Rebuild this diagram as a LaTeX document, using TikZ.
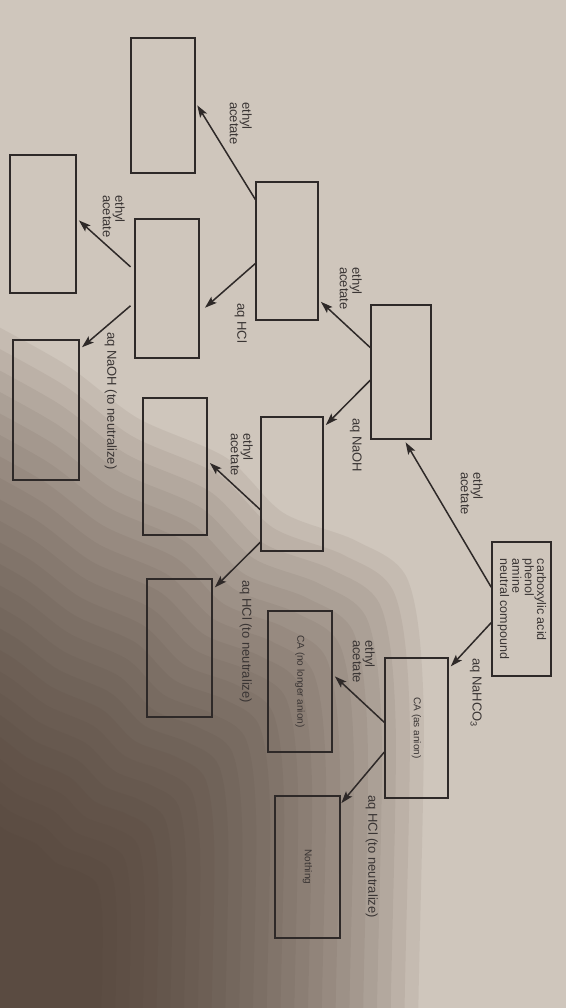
\documentclass[tikz,border=0pt]{standalone}
\usepackage{fontspec}
\setmainfont{Liberation Sans}
\usetikzlibrary{calc,arrows.meta}
\definecolor{paper}{RGB}{207,198,188}
\definecolor{shadowc}{RGB}{72,56,46}
\definecolor{ink}{RGB}{46,41,40}
\definecolor{txt}{RGB}{58,53,52}
\newcommand{\rot}[1]{\rotatebox{-90}{#1}}
\newcommand{\lines}[1]{\begin{tabular}{@{}l@{}}#1\end{tabular}}
\begin{document}
\begin{tikzpicture}[x=1pt,y=-1pt,
  box/.style n args={2}{draw=ink,line width=1.4pt,inner sep=0pt,text=txt,
     minimum width=#1pt,minimum height=#2pt},
  lbl/.style={inner sep=0pt,text=txt,anchor=north east,font=\fontsize{13}{12.5}\selectfont},
  small/.style={font=\fontsize{10}{11}\selectfont},
  arr/.style={draw=ink,line width=1.5pt,-{Stealth[length=12pt,width=8pt,inset=2.5pt]},shorten >=3pt}]
\useasboundingbox (0,0) rectangle (566,1008);
\fill[paper] (0,0) rectangle (566,1008);
\begin{scope}
\clip (0,0) rectangle (566,1008);
\foreach \i in {0,...,23}{
  \pgfmathsetmacro\s{1.04-0.03*\i}
  \fill[shadowc,opacity=0.07,scale around={\s:(-60,1040)}]
    plot[smooth] coordinates {(-40,335)(60,390)(130,442)(215,480)(270,533)(340,560)(390,598)(405,720)(400,1008)(400,1150)}
    -- (-40,1150) -- cycle;
}
\end{scope}

% boxes
\node[box={59}{134}] (src) at (521.5,609)
  {\rot{\fontsize{12.5}{11}\selectfont\lines{carboxylic acid\\phenol\\amine\\neutral compound}}};
\node[box={60}{134}] (E) at (401,372) {};
\node[box={62}{138}] (B) at (287,251) {};
\node[box={64}{135}] (A) at (163,105.5) {};
\node[box={64}{139}] (C) at (167,288.5) {};
\node[box={66}{138}] (H) at (43,224) {};
\node[box={66}{140}] (I) at (46,410) {};
\node[box={62}{134}] (F) at (292,484) {};
\node[box={64}{137}] (D) at (175,466.5) {};
\node[box={65}{138}] (G) at (179.5,648) {};
\node[box={63}{140},small] (CAa) at (416.5,728) {\rot{CA (as anion)}};
\node[box={64}{141},small] (CAn) at (300,681.5) {\rot{CA (no longer anion)}};
\node[box={65}{142},small] (N) at (307.5,867) {\rot{Nothing}};

% labels
\node[lbl] (l1) at (483,472) {\rot{\lines{ethyl\\acetate}}};
\node[lbl] (l2) at (482,658) {\rot{aq NaHCO\textsubscript{3}}};
\node[lbl] (l3) at (375,640) {\rot{\lines{ethyl\\acetate}}};
\node[lbl] (l4) at (378,795) {\rot{aq HCl (to neutralize)}};
\node[lbl] (l5) at (362,267) {\rot{\lines{ethyl\\acetate}}};
\node[lbl] (l6) at (362,418) {\rot{aq NaOH}};
\node[lbl] (l7) at (252,102) {\rot{\lines{ethyl\\acetate}}};
\node[lbl] (l8) at (247,303) {\rot{aq HCl}};
\node[lbl] (l9) at (125,195) {\rot{\lines{ethyl\\acetate}}};
\node[lbl] (l10) at (117,332) {\rot{aq NaOH (to neutralize)}};
\node[lbl] (l11) at (253,433) {\rot{\lines{ethyl\\acetate}}};
\node[lbl] (l12) at (252,580) {\rot{aq HCl (to neutralize)}};

% connectors
\draw[arr] ($(src.north west)!0.34!(src.south west)$) -- ($(E.south west)!0.55!(E.south east)$);
\draw[arr] ($(src.north west)!0.6!(src.south west)$) -- ($(CAa.north east)!0.08!(CAa.south east)$);
\draw[arr] ($(E.north west)!0.32!(E.south west)$) -- ($(B.north east)!0.85!(B.south east)$);
\draw[arr] ($(E.north west)!0.56!(E.south west)$) -- ($(F.north east)!0.08!(F.south east)$);
\draw[arr] ($(B.north west)!0.13!(B.south west)$) -- ($(A.north east)!0.48!(A.south east)$);
\draw[arr,shorten >=7pt] ($(B.north west)!0.59!(B.south west)$) -- ($(C.north east)!0.67!(C.south east)$);
\draw[arr,shorten <=5pt] ($(C.north west)!0.37!(C.south west)$) -- ($(H.north east)!0.46!(H.south east)$);
\draw[arr,shorten <=5pt] ($(C.north west)!0.6!(C.south west)$) -- ($(I.north east)!0.07!(I.south east)$);
\draw[arr] ($(F.north west)!0.69!(F.south west)$) -- ($(D.north east)!0.46!(D.south east)$);
\draw[arr] ($(F.north west)!0.93!(F.south west)$) -- ($(G.north east)!0.08!(G.south east)$);
\draw[arr] ($(CAa.north west)!0.46!(CAa.south west)$) -- ($(CAn.north east)!0.45!(CAn.south east)$);
\draw[arr,shorten >=1pt] ($(CAa.north west)!0.67!(CAa.south west)$) -- ($(N.north east)!0.06!(N.south east)$);
\end{tikzpicture}
\end{document}
